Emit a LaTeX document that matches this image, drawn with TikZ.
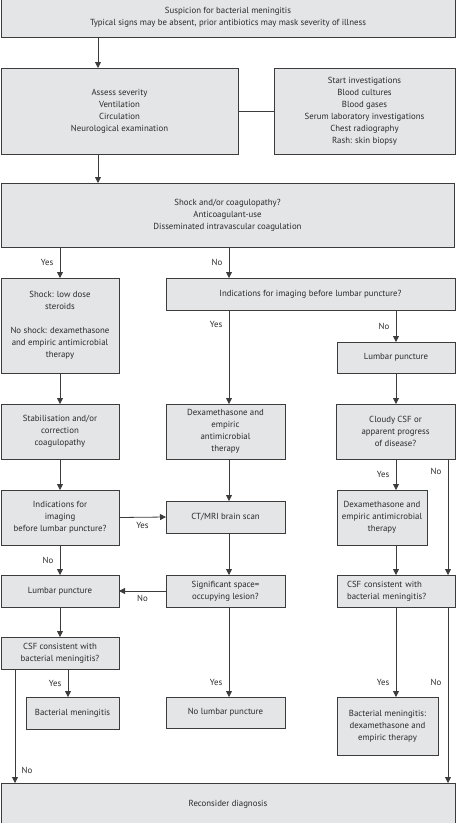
\documentclass[tikz,border=0pt]{standalone}
\usepackage{fontspec}
\setmainfont{PT Sans}
\usetikzlibrary{arrows.meta}
\definecolor{boxfill}{HTML}{E4E5E6}
\definecolor{boxline}{HTML}{3C3C3C}
\definecolor{txt}{HTML}{2A2A2A}
\begin{document}
\begin{tikzpicture}[x=1pt,y=-1pt,
  every node/.style={font=\fontsize{8.8}{12}\selectfont,text=txt},
  box/.style={draw=boxline,fill=boxfill,line width=0.8pt,inner sep=1pt,outer sep=0pt,align=center},
  arr/.style={draw=boxline,line width=0.8pt,-{Triangle[width=6pt,length=6pt]}},
  link/.style={draw=boxline,line width=0.8pt}
]
\useasboundingbox (0,0) rectangle (456,823);
% boxes
\node[box,minimum width=454pt,minimum height=39pt] (susp) at (228,17.5) {Suspicion for bacterial meningitis\\Typical signs may be absent, prior antibiotics may mask severity of illness};
\node[box,minimum width=237pt,minimum height=86pt] (assess) at (119.5,111) {Assess severity\\Ventilation\\Circulation\\Neurological examination};
\node[box,minimum width=181pt,minimum height=86pt] (invest) at (364.5,111) {Start investigations\\Blood cultures\\Blood gases\\Serum laboratory investigations\\Chest radiography\\Rash: skin biopsy};
\node[box,minimum width=453pt,minimum height=64pt] (shockq) at (227.5,215) {Shock and/or coagulopathy?\\Anticoagulant-use\\Disseminated intravascular coagulation};
\node[box,minimum width=118pt,minimum height=95pt] (shock) at (60,325.5) {Shock: low dose\\steroids\\[12pt]No shock: dexamethasone\\and empiric antimicrobial\\therapy};
\node[box,minimum width=289pt,minimum height=32pt] (imgq) at (310.5,294) {Indications for imaging before lumbar puncture?};
\node[box,minimum width=118pt,minimum height=31pt] (lpr) at (396,357.5) {Lumbar puncture};
\node[box,minimum width=118pt,minimum height=55pt] (stab) at (60,431.5) {Stabilisation and/or\\correction\\coagulopathy};
\node[box,minimum width=119pt,minimum height=55pt] (dexm) at (225.5,431.5) {Dexamethasone and\\empiric\\antimicrobial\\therapy};
\node[box,minimum width=119pt,minimum height=55pt] (cloudy) at (395.5,431.5) {Cloudy CSF or\\apparent progress\\of disease?};
\node[box,minimum width=118pt,minimum height=55pt] (imgl) at (60,517.5) {Indications for\\imaging\\before lumbar puncture?};
\node[box,minimum width=119pt,minimum height=32pt] (scan) at (225.5,517) {CT/MRI brain scan};
\node[box,minimum width=90pt,minimum height=55pt] (dexr) at (382,517.5) {Dexamethasone and\\empiric antimicrobial\\therapy};
\node[box,minimum width=118pt,minimum height=32pt] (lpl) at (60,591) {Lumbar puncture};
\node[box,minimum width=119pt,minimum height=32pt] (lesion) at (225.5,591) {Significant space=\\occupying lesion?};
\node[box,minimum width=118pt,minimum height=32pt,align=left,text width=98pt] (csfr) at (396,591) {CSF consistent with\\bacterial meningitis?};
\node[box,minimum width=118pt,minimum height=32pt] (csfl) at (60,653) {CSF consistent with\\bacterial meningitis?};
\node[box,minimum width=93pt,minimum height=32pt] (bm) at (72.5,713) {Bacterial meningitis};
\node[box,minimum width=119pt,minimum height=31pt] (nolp) at (225.5,712.5) {No lumbar puncture};
\node[box,minimum width=101pt,minimum height=58pt] (bmdex) at (387.5,726) {Bacterial meningitis:\\dexamethasone and\\empiric therapy};
\node[box,minimum width=454pt,minimum height=43pt] (recon) at (228,804.5) {Reconsider diagnosis};
% connectors
\draw[arr] (susp.south -| 98,0) -- (assess.north -| 98,0);
\draw[link] (assess.east) -- (invest.west);
\draw[arr] (assess.south -| 98,0) -- (shockq.north -| 98,0);
\draw[arr] (shockq.south -| shock) -- node[midway,left=3pt] {Yes} (shock.north);
\draw[arr] (shockq.south -| 229,0) -- node[midway,left=3pt] {No} (imgq.north -| 229,0);
\draw[arr] (imgq.south -| 229,0) -- node[pos=0.15,left=3pt] {Yes} (dexm.north -| 229,0);
\draw[arr] (imgq.south -| lpr) -- node[midway,left=3pt] {No} (lpr.north);
\draw[arr] (shock) -- (stab);
\draw[arr] (lpr.south) -- (cloudy.north -| lpr);
\draw[arr] (stab) -- (imgl);
\draw[arr] (dexm.south -| 229,0) -- (scan.north -| 229,0);
\draw[arr] (cloudy.south -| lpr) -- node[midway,left=3pt] {Yes} (dexr.north -| lpr);
\draw[arr] (cloudy.south -| 448,0) -- node[pos=0.11,left=3pt] {No} (csfr.north -| 448,0);
\draw[arr] (imgl.east) -- node[midway,below=1pt] {Yes} (scan.west);
\draw[arr] (imgl) -- node[midway,left=3pt] {No} (lpl);
\draw[arr] (scan.south -| 229,0) -- (lesion.north -| 229,0);
\draw[arr] (dexr.south -| lpr) -- (csfr.north -| lpr);
\draw[arr] (lesion.west) -- node[midway,below=1pt] {No} (lpl.east);
\draw[arr] (lpl) -- (csfl);
\draw[arr] (csfl.south -| 15,0) -- node[pos=0.89,right=3pt] {No} (recon.north -| 15,0);
\draw[arr] (csfl.south -| 68,0) -- node[midway,left=3pt] {Yes} (bm.north -| 68,0);
\draw[arr] (lesion.south -| 229,0) -- node[pos=0.84,left=3pt] {Yes} (nolp.north -| 229,0);
\draw[arr] (csfr.south -| lpr) -- node[pos=0.84,left=3pt] {Yes} (bmdex.north -| lpr);
\draw[arr] (csfr.south -| 448,0) -- node[pos=0.43,left=3pt] {No} (recon.north -| 448,0);
\end{tikzpicture}
\end{document}
